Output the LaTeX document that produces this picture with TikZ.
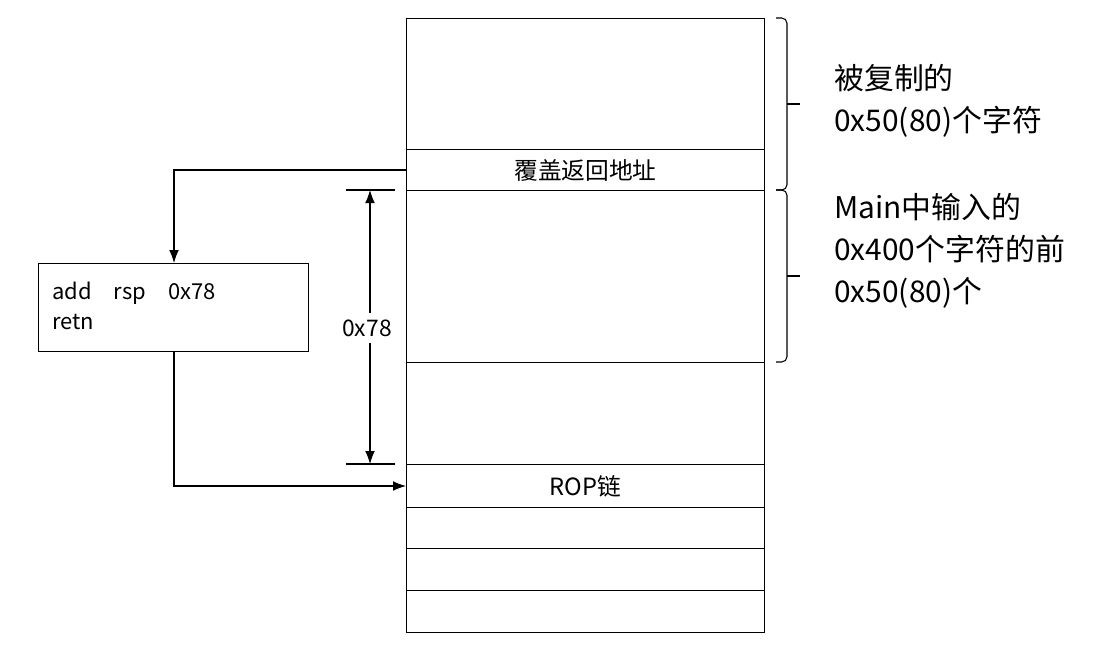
\documentclass[tikz,border=0pt]{standalone}
\usepackage{fontspec}
\setmainfont{Noto Sans CJK SC}
\usetikzlibrary{arrows.meta,calc}
\tikzset{
    cell/.style={draw,minimum width=7.16cm,anchor=north west,inner sep=0pt,font=\fontsize{13.5}{16}\selectfont},
    note/.style={font=\fontsize{17}{24}\selectfont,align=left,anchor=west},
    brc/.style={rounded corners=3pt}
}
\begin{document}
\begin{tikzpicture}[>={Latex[length=2.6mm]},x=0.02cm,y=-0.02cm,line width=0.6pt]
\useasboundingbox (0,0) rectangle (1107,657);
% stack cells
\foreach \t/\b/\lab [count=\i] in {18/149/,149/190/覆盖返回地址,190/362/,362/464/,464/507/ROP链,507/548/,548/590/,590/632/} {
    \node[cell,minimum height={(\b-\t)*0.02cm}] (c\i) at (406,\t) {\lab};
}
% braces
\foreach \t/\b [count=\i] in {18/190,190/362} {
    \draw[brc] (776,\t) -| (787,{(\t+\b)/2}) coordinate (b\i) |- (776,\b);
    \draw (b\i) -- ++(13,0);
}
\node[note] (n1) at (828,101) {被复制的\\0x50(80)个字符};
\node[note] (n2) at (828,251) {Main中输入的\\0x400个字符的前\\0x50(80)个};
% gadget box
\node[draw,minimum width=5.4cm,minimum height=1.76cm,anchor=north west] (gad) at (38,263) {};
\node[anchor=west,align=left,font=\fontsize{12.5}{17}\selectfont] (code) at (46,306) {add\quad rsp\quad 0x78\\retn};
% jumps
\coordinate (j1) at (406,170);
\coordinate (j2) at (406,486);
\draw[->] (j1) -| (gad.north -| 174,0);
\draw[->] (gad.south -| 174,0) |- (j2);
% offset
\coordinate (t1) at (346,190);
\coordinate (t2) at (346,464);
\draw (t1) -- ++(49,0);
\draw (t2) -- ++(49,0);
\node[font=\fontsize{13}{15}\selectfont] (off) at (367,328) {0x78};
\draw[->] (off.north -| 370,0) -- (370,190);
\draw[->] (off.south -| 370,0) -- (370,464);
\end{tikzpicture}
\end{document}
